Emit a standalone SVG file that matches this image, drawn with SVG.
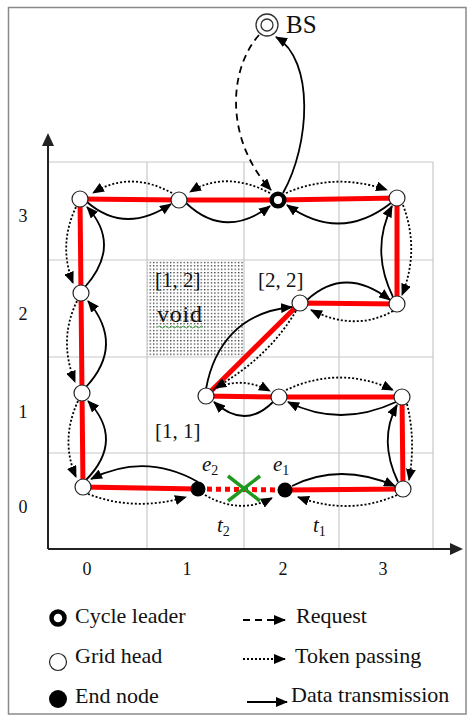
<svg xmlns="http://www.w3.org/2000/svg" width="474" height="723" viewBox="0 0 474 723">
<style>
text{font-family:"Liberation Serif","Times New Roman",serif;fill:#111}
.lbl{font-size:21px}
.leg{font-size:22px}
.ax{font-size:18px}
.grid{stroke:#c8c8c8;stroke-width:1.2;fill:none}
.red{stroke:#ff0000;stroke-width:5;fill:none;stroke-linecap:butt}
.data{stroke:#000;stroke-width:1.8;fill:none;marker-end:url(#ah)}
.tok{stroke:#000;stroke-width:1.8;fill:none;stroke-dasharray:2 2;marker-end:url(#ah)}
.req{stroke:#000;stroke-width:1.8;fill:none;stroke-dasharray:7 5;marker-end:url(#ah)}
.gh{fill:#fff;stroke:#222;stroke-width:1.2}
.en{fill:#000}
.cl{fill:#fff;stroke:#000;stroke-width:4.5}
</style>
<defs>
<marker id="ah" viewBox="0 0 12 10" refX="11" refY="5" markerWidth="12" markerHeight="10" markerUnits="userSpaceOnUse" orient="auto">
<path d="M0,0 L12,5 L0,10 z" fill="#000"/>
</marker>
<pattern id="dots" width="3.4" height="3.4" patternUnits="userSpaceOnUse">
<rect width="3.4" height="3.4" fill="#fff"/>
<rect width="1.3" height="1.3" fill="#333"/>
</pattern>
</defs>
<rect x="8.5" y="7.5" width="457.5" height="706.5" fill="#fff" stroke="#8a8a8a" stroke-width="1.5"/>
<g id="grid">
<rect x="147" y="260" width="97" height="97" fill="url(#dots)"/>
<path class="grid" d="M48,162 H433 M48,260 H433 M48,357 H433 M48,453 H433 M147,162 V549 M244,162 V549 M339,162 V549 M433,162 V549"/>
</g>
<g id="axes" stroke="#222" stroke-width="2" fill="none">
<path d="M48,549 V144"/>
<path d="M48,549 H452"/>
<path d="M42,146 L48,133 L54,146 z" fill="#222" stroke="none"/>
<path d="M450,543 L463,549 L450,555 z" fill="#222" stroke="none"/>
</g>
<g id="axis-labels" class="ax" text-anchor="middle">
<text x="23" y="222">3</text>
<text x="23" y="320">2</text>
<text x="23" y="418">1</text>
<text x="23" y="513">0</text>
<text x="87" y="575">0</text>
<text x="187" y="575">1</text>
<text x="283" y="575">2</text>
<text x="383" y="575">3</text>
</g>
<g id="cell-labels" class="lbl">
<text x="155" y="287">[1, 2]</text>
<text x="157" y="322" font-size="24" letter-spacing="0.8">void</text>
<path d="M158,327 q1.5,-2 3,0 t3,0 t3,0 t3,0 t3,0 t3,0 t3,0 t3,0 t3,0 t3,0 t3,0 t3,0 t3,0 t3,0 t3,0" fill="none" stroke="#3a9a3a" stroke-width="0.9"/>
<text x="258" y="287">[2, 2]</text>
<text x="155" y="438">[1, 1]</text>
<text x="202" y="471" font-style="italic" font-size="21">e<tspan font-size="14" dy="4" font-style="normal">2</tspan></text>
<text x="273" y="471" font-style="italic" font-size="21">e<tspan font-size="14" dy="4" font-style="normal">1</tspan></text>
<text x="217" y="532" font-style="italic" font-size="21">t<tspan font-size="14" dy="4" font-style="normal">2</tspan></text>
<text x="313" y="532" font-style="italic" font-size="21">t<tspan font-size="14" dy="4" font-style="normal">1</tspan></text>
</g>
<g id="links">
<path class="red" d="M80,199 L179,200 L278,200 L397,198 L397,304 L300,303 L206,396 L279,397 L402,397 L403,489 L285,490"/>
<path class="red" d="M80,199 L81,293 L82,393 L83,487 L198,489"/>
<path d="M198,489 L285,490" stroke="#ff0000" stroke-width="5" stroke-dasharray="5 4" fill="none"/>
</g>
<g id="connectors">
<path class="data" d="M198,482 Q145,452 91,479"/>
<path class="data" d="M86,480 Q125,440 88,401"/>
<path class="data" d="M86,387 Q125,345 88,301"/>
<path class="data" d="M85,287 Q122,245 87,207"/>
<path class="data" d="M87,202 Q125,235 171,204"/>
<path class="data" d="M186,203 Q225,240 270,206"/>
<path class="data" d="M391,203 Q340,243 287,205"/>
<path class="data" d="M393,297 Q370,250 392,206"/>
<path class="data" d="M307,300 Q345,265 390,300"/>
<path class="data" d="M206,389 C214,345 240,312 292,307"/>
<path class="data" d="M273,402 Q245,430 214,402"/>
<path class="data" d="M396,402 Q340,428 288,402"/>
<path class="data" d="M398,482 Q378,440 397,405"/>
<path class="data" d="M292,486 Q340,462 395,486"/>
<path class="data" d="M283,193 C310,145 315,60 276,37"/>
<path class="req" d="M259,35 C228,70 225,140 271,190"/>
<path class="tok" d="M270,193 Q225,170 190,192"/>
<path class="tok" d="M172,193 Q130,170 93,193"/>
<path class="tok" d="M76,207 Q58,245 73,283"/>
<path class="tok" d="M77,301 Q58,340 75,382"/>
<path class="tok" d="M78,401 Q60,440 76,477"/>
<path class="tok" d="M88,494 Q135,512 186,497"/>
<path class="tok" d="M205,495 Q240,515 272,498"/>
<path class="tok" d="M397,495 Q350,516 298,497"/>
<path class="tok" d="M286,193 Q335,172 387,190"/>
<path class="tok" d="M403,205 Q420,250 402,295"/>
<path class="tok" d="M393,311 Q355,332 311,310"/>
<path class="tok" d="M296,311 Q268,358 215,388"/>
<path class="tok" d="M213,390 Q240,375 270,391"/>
<path class="tok" d="M286,390 Q340,365 393,390"/>
<path class="tok" d="M407,404 Q416,440 409,480"/>
</g>
<g id="bs">
<circle cx="267" cy="25" r="11" fill="#fff" stroke="#333" stroke-width="1.3"/>
<circle cx="267" cy="25" r="6" fill="#fff" stroke="#333" stroke-width="1.3"/>
<text x="286" y="33" font-size="25">BS</text>
</g>
<g id="n03"><circle class="gh" cx="80" cy="199" r="8"/></g>
<g id="n13"><circle class="gh" cx="179" cy="200" r="8"/></g>
<g id="leader"><circle class="cl" cx="278" cy="200" r="6.3"/></g>
<g id="n33"><circle class="gh" cx="397" cy="198" r="8"/></g>
<g id="n02"><circle class="gh" cx="81" cy="293" r="8"/></g>
<g id="n22"><circle class="gh" cx="300" cy="303" r="8"/></g>
<g id="n32"><circle class="gh" cx="397" cy="304" r="8"/></g>
<g id="n01"><circle class="gh" cx="82" cy="393" r="8"/></g>
<g id="n11"><circle class="gh" cx="206" cy="396" r="8"/></g>
<g id="n21"><circle class="gh" cx="279" cy="397" r="8"/></g>
<g id="n31"><circle class="gh" cx="402" cy="397" r="8"/></g>
<g id="n00"><circle class="gh" cx="83" cy="487" r="8"/></g>
<g id="e2"><circle class="en" cx="198" cy="489" r="7.5"/></g>
<g id="e1"><circle class="en" cx="285" cy="490" r="7.5"/></g>
<g id="n30"><circle class="gh" cx="403" cy="489" r="8"/></g>
<g id="break" stroke="#1f9a1f" stroke-width="3.5" stroke-linecap="butt">
<path d="M228,476 L260,501 M228,501 L260,476"/>
</g>
<g id="legend" class="leg">
<circle class="cl" cx="58" cy="618" r="6.5" stroke-width="5"/>
<text x="75" y="623">Cycle leader</text>
<circle class="gh" cx="58" cy="662" r="8.5"/>
<text x="75" y="663">Grid head</text>
<circle class="en" cx="58" cy="699" r="9"/>
<text x="75" y="703">End node</text>
<path class="req" d="M243,620 H285"/>
<text x="296" y="623">Request</text>
<path class="tok" d="M243,659 H285"/>
<text x="295" y="663">Token passing</text>
<path class="data" d="M247,702 H287"/>
<text x="291" y="702">Data transmission</text>
</g>
</svg>
